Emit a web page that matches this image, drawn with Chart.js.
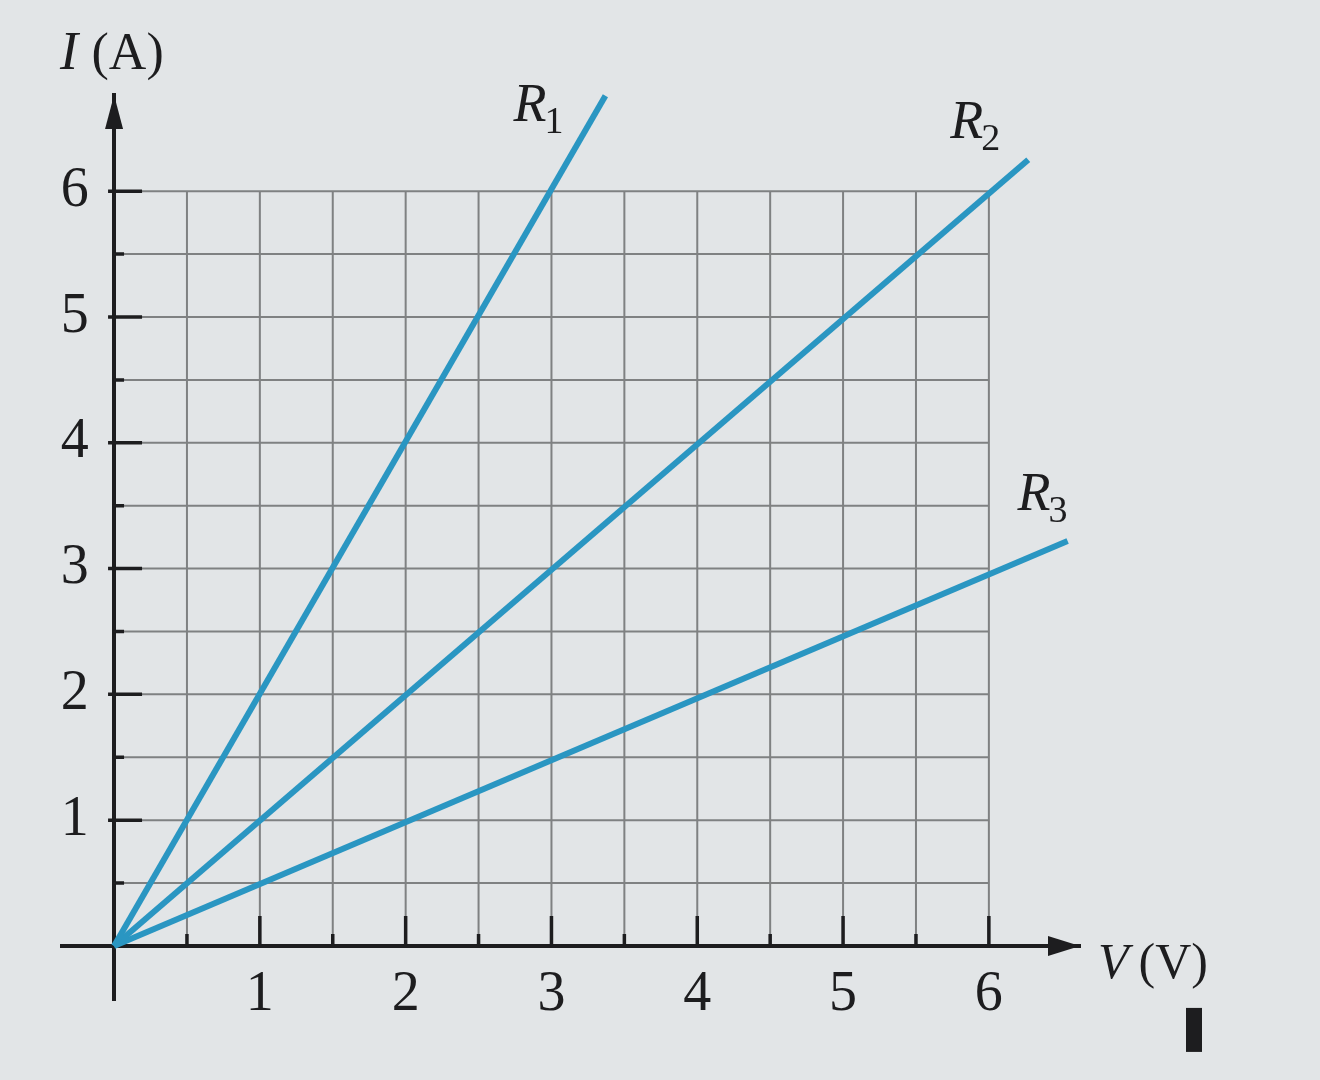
<!DOCTYPE html>
<html>
<head>
<meta charset="utf-8">
<title>I-V graph</title>
<script src="https://cdn.jsdelivr.net/npm/chart.js@4.4.1/dist/chart.umd.min.js"></script>
<style>
    html, body { margin: 0; padding: 0; background: #e2e5e7; }
    #wrap { width: 1320px; height: 1080px; }
</style>
</head>
<body>
<div id="wrap"><canvas id="iv-graph" width="1320" height="1080"></canvas></div>
<script>
// tick labels
const voltTicks = [1, 2, 3, 4, 5, 6];
const ampTicks = [1, 2, 3, 4, 5, 6];
// grid lines every half unit
const gridSteps = [0, 0.5, 1, 1.5, 2, 2.5, 3, 3.5, 4, 4.5, 5, 5.5, 6];

// the three resistors
const seriesNames = ['R1', 'R2', 'R3'];
const r1Volts = [0, 3.37];
const r1Amps = [0, 6.76];
const r2Volts = [0, 6.27];
const r2Amps = [0, 6.25];
const r3Volts = [0, 6.54];
const r3Amps = [0, 3.22];

const INK = '#1d1d1f';
const LINE = '#2a96c2';
const SERIF = '"Liberation Serif", "DejaVu Serif", serif';

function toPoints(xs, ys) {
    return xs.map(function(v, i) { return { x: v, y: ys[i] }; });
}

// label offsets relative to the end of each line (px)
const labelOffsets = [[-92, 25], [-78, -22], [-50, -31]];

const paperPlugin = {
    id: 'paper',
    beforeDraw(chart) {
        const ctx = chart.ctx;
        ctx.save();
        ctx.fillStyle = '#e2e5e7';
        ctx.fillRect(0, 0, chart.width, chart.height);
        ctx.restore();
    },
    beforeDatasetsDraw(chart) {
        const ctx = chart.ctx;
        const xs = chart.scales.x;
        const ys = chart.scales.y;
        const x0 = xs.getPixelForValue(0), x6 = xs.getPixelForValue(6);
        const y0 = ys.getPixelForValue(0), y6 = ys.getPixelForValue(6);
        ctx.save();
        // grid (the zero lines are the axes themselves)
        ctx.strokeStyle = '#7f8182';
        ctx.lineWidth = 2;
        gridSteps.forEach(function(v) {
            if (v === 0) return;
            const px = xs.getPixelForValue(v);
            const py = ys.getPixelForValue(v);
            ctx.beginPath();
            ctx.moveTo(px, y0);
            ctx.lineTo(px, y6);
            ctx.moveTo(x0, py);
            ctx.lineTo(x6, py);
            ctx.stroke();
        });
        // stubs on the axes
        ctx.strokeStyle = INK;
        ctx.lineWidth = 3.5;
        gridSteps.forEach(function(v) {
            if (v === 0) return;
            const whole = Number.isInteger(v);
            const px = xs.getPixelForValue(v);
            const py = ys.getPixelForValue(v);
            ctx.beginPath();
            ctx.moveTo(px, y0);
            ctx.lineTo(px, y0 - (whole ? 30 : 12));
            ctx.moveTo(x0 - (whole ? 6 : 0), py);
            ctx.lineTo(x0 + (whole ? 28 : 10), py);
            ctx.stroke();
        });
        // arrow heads
        const top = chart.chartArea.top, right = chart.chartArea.right;
        ctx.fillStyle = INK;
        ctx.beginPath();
        ctx.moveTo(x0, top);
        ctx.lineTo(x0 - 9, top + 34);
        ctx.lineTo(x0 + 9, top + 34);
        ctx.closePath();
        ctx.fill();
        ctx.beginPath();
        ctx.moveTo(right, y0);
        ctx.lineTo(right - 32, y0 - 10);
        ctx.lineTo(right - 32, y0 + 10);
        ctx.closePath();
        ctx.fill();
        ctx.restore();
    },
    afterDraw(chart) {
        const ctx = chart.ctx;
        const xs = chart.scales.x;
        const ys = chart.scales.y;
        const x0 = xs.getPixelForValue(0);
        const y0 = ys.getPixelForValue(0);
        ctx.save();
        ctx.fillStyle = INK;
        ctx.textBaseline = 'alphabetic';

        // axis titles
        ctx.font = 'italic 54px ' + SERIF;
        ctx.fillText('I', x0 - 54, chart.chartArea.top - 26);
        let w = ctx.measureText('I ').width;
        ctx.font = '52px ' + SERIF;
        ctx.fillText('(A)', x0 - 54 + w, chart.chartArea.top - 26);

        const vx = chart.chartArea.right + 18;
        ctx.font = 'italic 50px ' + SERIF;
        ctx.fillText('V', vx, y0 + 32);
        w = ctx.measureText('V').width + 10;
        ctx.font = '50px ' + SERIF;
        ctx.fillText('(V)', vx + w, y0 + 32);

        // series labels R1 R2 R3
        chart.data.datasets.forEach(function(ds, i) {
            const end = ds.data[ds.data.length - 1];
            const px = xs.getPixelForValue(end.x) + labelOffsets[i][0];
            const py = ys.getPixelForValue(end.y) + labelOffsets[i][1];
            ctx.font = 'italic 54px ' + SERIF;
            ctx.fillText(seriesNames[i].charAt(0), px, py);
            const rw = ctx.measureText(seriesNames[i].charAt(0)).width;
            ctx.font = '38px ' + SERIF;
            ctx.fillText(seriesNames[i].slice(1), px + rw - 2, py + 12);
        });

        // small dark mark in the lower right corner of the photo
        ctx.fillRect(chart.chartArea.right + 106, y0 + 62, 16, 44);
        ctx.restore();
    }
};

new Chart(document.getElementById('iv-graph'), {
    type: 'line',
    data: {
        datasets: [
            { label: seriesNames[0], data: toPoints(r1Volts, r1Amps) },
            { label: seriesNames[1], data: toPoints(r2Volts, r2Amps) },
            { label: seriesNames[2], data: toPoints(r3Volts, r3Amps) }
        ].map(function(ds) {
            return Object.assign(ds, {
                borderColor: LINE,
                borderWidth: 6,
                borderCapStyle: 'butt',
                pointRadius: 0,
                fill: false,
                tension: 0,
                clip: false
            });
        })
    },
    options: {
        responsive: false,
        animation: false,
        devicePixelRatio: 1,
        layout: { padding: { left: 62, right: 240, top: 95, bottom: 80 } },
        plugins: {
            legend: { display: false },
            tooltip: { enabled: false }
        },
        scales: {
            x: {
                type: 'linear',
                min: -0.357,
                max: 6.625,
                position: { y: 0 },
                afterBuildTicks: function(scale) {
                    scale.ticks = voltTicks.map(function(v) { return { value: v }; });
                },
                grid: { display: false, drawTicks: false },
                border: { display: true, color: INK, width: 4 },
                ticks: {
                    autoSkip: false,
                    maxRotation: 0,
                    padding: 16,
                    color: INK,
                    font: { family: SERIF, size: 56 }
                }
            },
            y: {
                type: 'linear',
                min: -0.43,
                max: 6.765,
                position: { x: 0 },
                afterBuildTicks: function(scale) {
                    scale.ticks = ampTicks.map(function(v) { return { value: v }; });
                },
                grid: { display: false, drawTicks: false },
                border: { display: true, color: INK, width: 4 },
                ticks: {
                    autoSkip: false,
                    color: INK,
                    font: { family: SERIF, size: 56 },
                    // padding is ignored for a centred axis, so keep the digits off the stubs
                    callback: function(value) { return value + ' \u2009'; }
                }
            }
        }
    },
    plugins: [paperPlugin]
});
</script>
</body>
</html>
